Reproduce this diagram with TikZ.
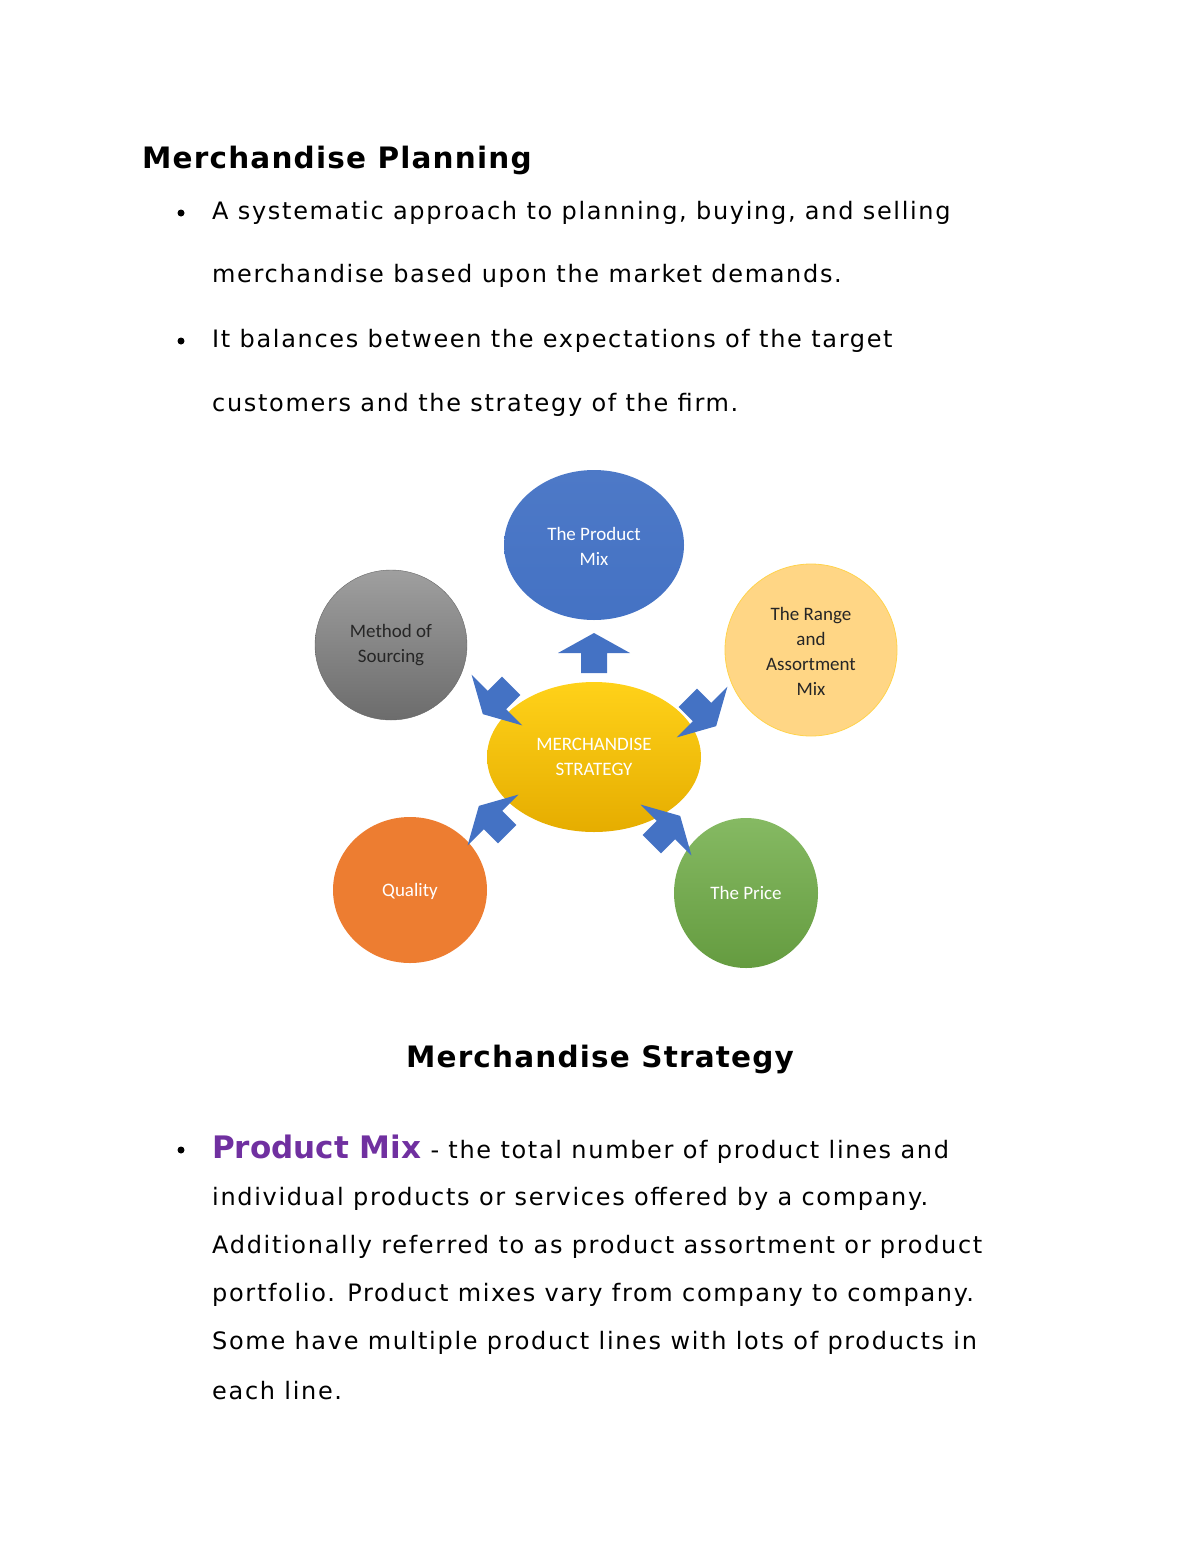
\documentclass[tikz,border=0pt]{standalone}
\usepackage{fontspec}
\setmainfont[LetterSpace=7]{DejaVu Sans}
\newfontfamily\calfnt{Carlito}
\begin{document}
\begin{tikzpicture}[x=1pt,y=-1pt,
  body/.style={anchor=west,inner sep=0,font=\fontsize{24}{28}\selectfont},
  head/.style={inner sep=0,font=\fontsize{29.5}{33}\selectfont\bfseries\addfontfeature{LetterSpace=4}},
  bul/.style={circle,fill=black,inner sep=0,minimum size=7},
  lab/.style={align=center,font=\calfnt\fontsize{19}{25}\selectfont,text=white}]
\definecolor{pb}{RGB}{68,114,196}
\definecolor{py}{RGB}{255,214,133}
\definecolor{pg}{RGB}{112,173,71}
\definecolor{po}{RGB}{237,125,49}
\definecolor{pgr}{RGB}{127,127,127}
\definecolor{pc}{RGB}{255,192,0}
\definecolor{pu}{RGB}{112,48,160}
\useasboundingbox (0,0) rectangle (1200,1553);
\node[head,anchor=west] (h1) at (142,160) {Merchandise Planning};
\node[bul] (b1) at (181,213) {};
\node[body] (t1) at (212,213) {A systematic approach to planning, buying, and selling};
\node[body] (t2) at (212,276) {merchandise based upon the market demands.};
\node[bul] (b2) at (181,341) {};
\node[body] (t3) at (212,341) {It balances between the expectations of the target};
\node[body] (t4) at (212,405) {customers and the strategy of the firm.};
% diagram
\shade[top color=pb!95!white,bottom color=pb] (594,545) ellipse (90 and 75);
\node[lab] (pm) at (594,546) {The Product\\Mix};
\fill[py] (811,650) ellipse (86 and 86);
\draw[pc!70!white,line width=0.8] (811,650) ellipse (86 and 86);
\node[lab,text=black!85] (rg) at (811,651) {The Range\\and\\Assortment\\Mix};
\shade[top color=pg!85!white,bottom color=pg!90!black] (746,893) ellipse (72 and 75);
\node[lab] (pr) at (746,893) {The Price};
\fill[po] (410,890) ellipse (77 and 73);
\node[lab] (ql) at (410,891) {Quality};
\shade[top color=pgr!75!white,bottom color=pgr!85!black] (391,645) ellipse (76 and 75);
\draw[black!60] (391,645) ellipse (76 and 75);
\node[lab,text=black!85] (ms) at (391,645) {Method of\\Sourcing};
\shade[top color=pc!80!yellow!90!white,bottom color=pc!90!black] (594,757) ellipse (107 and 75);
\node[lab] (cs) at (594,757) {MERCHANDISE\\STRATEGY};
\foreach \px/\py/\ang in {594/653/0, 497/700/135, 702/712/-135, 493/820/45, 666/830/-45}{
  \fill[pb,shift={(\px,\py)},rotate=\ang] (-13,20) -- (-13,0) -- (-36,0) -- (0,-20) -- (36,0) -- (13,0) -- (13,20) -- cycle;
}
% strategy
\node[head] (h2) at (600,1059) {Merchandise Strategy};
\node[bul] (b3) at (181,1150) {};
\node[body] (t5) at (212,1149) {\textcolor{pu}{\fontsize{31}{34}\selectfont\bfseries\addfontfeature{LetterSpace=0}Product Mix} - the total number of product lines and};
\node[body] (t6) at (212,1199) {individual products or services offered by a company.};
\node[body] (t7) at (212,1247) {Additionally referred to as product assortment or product};
\node[body] (t8) at (212,1295) {portfolio. Product mixes vary from company to company.};
\node[body] (t9) at (212,1343) {Some have multiple product lines with lots of products in};
\node[body] (t10) at (212,1391) {each line.};
\end{tikzpicture}
\end{document}
